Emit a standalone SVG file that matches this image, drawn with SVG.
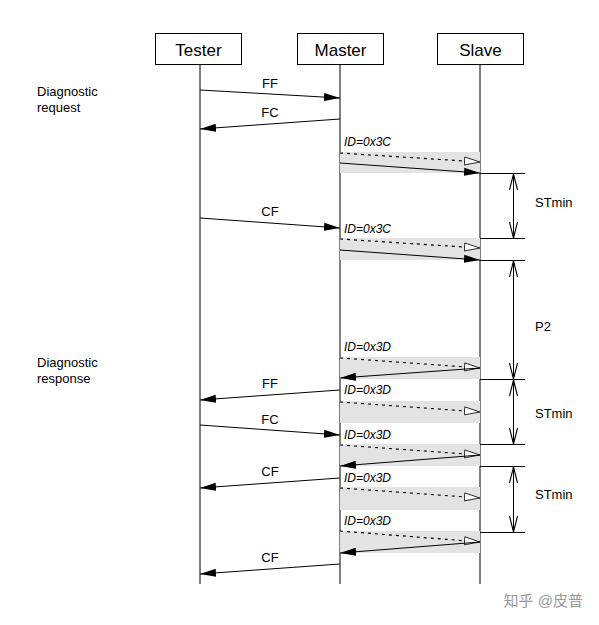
<svg xmlns="http://www.w3.org/2000/svg" width="599" height="625" viewBox="0 0 599 625">
<defs>
<style>
.box{fill:#fff;stroke:#000;stroke-width:1}
.life{stroke:#000;stroke-width:1}
.msg{stroke:#000;stroke-width:1;fill:none}
.dash{stroke:#000;stroke-width:1.2;fill:none;stroke-dasharray:3,4}
.band{fill:#e3e3e3}
.tick{stroke:#000;stroke-width:1}
.t{font-family:"Liberation Sans",Arial,sans-serif;fill:#000}
.lbl{font-size:17px;text-anchor:middle}
.m{font-size:13px;text-anchor:middle}
.id{font-size:12px;font-style:italic}
.side{font-size:13px}
</style>
<marker id="fill" markerUnits="userSpaceOnUse" markerWidth="18" markerHeight="10" refX="16" refY="5" orient="auto">
<path d="M0,1 L16,5 L0,9 z" fill="#000"/>
</marker>
<marker id="hollow" markerUnits="userSpaceOnUse" markerWidth="18" markerHeight="10" refX="16" refY="5" orient="auto">
<path d="M0.5,1 L16,5 L0.5,9 z" fill="#fff" stroke="#000" stroke-width="0.8"/>
</marker>
<marker id="vee" markerUnits="userSpaceOnUse" markerWidth="18" markerHeight="12" refX="16" refY="5" orient="auto-start-reverse">
<path d="M0,1 L16,5 L0,9" fill="none" stroke="#000" stroke-width="1.1"/>
</marker>
</defs>

<g id="tester">
<rect class="box" x="155.5" y="33.5" width="86" height="31"/>
<text class="t lbl" x="198.5" y="56">Tester</text>
<line class="life" x1="200" y1="65" x2="200" y2="584"/>
</g>
<g id="master">
<rect class="box" x="297.5" y="33.5" width="86" height="31"/>
<text class="t lbl" x="340.5" y="56">Master</text>
<line class="life" x1="340" y1="65" x2="340" y2="584"/>
</g>
<g id="slave">
<rect class="box" x="437.5" y="33.5" width="86" height="31"/>
<text class="t lbl" x="480.5" y="56">Slave</text>
<line class="life" x1="480" y1="65" x2="480" y2="584"/>
</g>

<g id="bands">
<rect class="band" x="340" y="152" width="140" height="21"/>
<rect class="band" x="340" y="238" width="140" height="22"/>
<rect class="band" x="340" y="357" width="140" height="22"/>
<rect class="band" x="340" y="401" width="140" height="22"/>
<rect class="band" x="340" y="444" width="140" height="22"/>
<rect class="band" x="340" y="487" width="140" height="23"/>
<rect class="band" x="340" y="531" width="140" height="22"/>
</g>

<g id="connectors">
<line class="msg" x1="200" y1="90" x2="340" y2="98" marker-end="url(#fill)"/>
<line class="msg" x1="340" y1="119" x2="200" y2="129" marker-end="url(#fill)"/>
<line class="dash" x1="340" y1="153" x2="480" y2="162" marker-end="url(#hollow)"/>
<line class="msg" x1="340" y1="163" x2="480" y2="173" marker-end="url(#fill)"/>
<line class="msg" x1="200" y1="218" x2="340" y2="228" marker-end="url(#fill)"/>
<line class="dash" x1="340" y1="239" x2="480" y2="248" marker-end="url(#hollow)"/>
<line class="msg" x1="340" y1="250" x2="480" y2="260" marker-end="url(#fill)"/>
<line class="dash" x1="340" y1="358" x2="480" y2="368" marker-end="url(#hollow)"/>
<line class="msg" x1="480" y1="368" x2="340" y2="378" marker-end="url(#fill)"/>
<line class="msg" x1="340" y1="390" x2="200" y2="400" marker-end="url(#fill)"/>
<line class="dash" x1="340" y1="402" x2="480" y2="412" marker-end="url(#hollow)"/>
<line class="msg" x1="200" y1="425" x2="340" y2="435" marker-end="url(#fill)"/>
<line class="dash" x1="340" y1="445" x2="480" y2="455" marker-end="url(#hollow)"/>
<line class="msg" x1="480" y1="455" x2="340" y2="466" marker-end="url(#fill)"/>
<line class="msg" x1="340" y1="478" x2="200" y2="488" marker-end="url(#fill)"/>
<line class="dash" x1="340" y1="488" x2="480" y2="498" marker-end="url(#hollow)"/>
<line class="dash" x1="340" y1="531" x2="480" y2="542" marker-end="url(#hollow)"/>
<line class="msg" x1="480" y1="542" x2="340" y2="553" marker-end="url(#fill)"/>
<line class="msg" x1="340" y1="564" x2="200" y2="574" marker-end="url(#fill)"/>
</g>

<g id="timing">
<line class="tick" x1="480" y1="173.5" x2="525" y2="173.5"/>
<line class="tick" x1="480" y1="238.5" x2="525" y2="238.5"/>
<line class="tick" x1="480" y1="260.5" x2="525" y2="260.5"/>
<line class="tick" x1="480" y1="379.5" x2="525" y2="379.5"/>
<line class="tick" x1="480" y1="444.5" x2="525" y2="444.5"/>
<line class="tick" x1="480" y1="466.5" x2="525" y2="466.5"/>
<line class="tick" x1="480" y1="532.5" x2="525" y2="532.5"/>
<line class="tick" x1="513.5" y1="174" x2="513.5" y2="238" marker-start="url(#vee)" marker-end="url(#vee)"/>
<line class="tick" x1="513.5" y1="261" x2="513.5" y2="379" marker-start="url(#vee)" marker-end="url(#vee)"/>
<line class="tick" x1="513.5" y1="380" x2="513.5" y2="444" marker-start="url(#vee)" marker-end="url(#vee)"/>
<line class="tick" x1="513.5" y1="467" x2="513.5" y2="532" marker-start="url(#vee)" marker-end="url(#vee)"/>
</g>

<g id="labels">
<text class="t m" x="270" y="88">FF</text>
<text class="t m" x="270" y="117">FC</text>
<text class="t id" x="344" y="146">ID=0x3C</text>
<text class="t m" x="270" y="216">CF</text>
<text class="t id" x="344" y="233">ID=0x3C</text>
<text class="t id" x="344" y="351">ID=0x3D</text>
<text class="t m" x="270" y="388">FF</text>
<text class="t id" x="344" y="394">ID=0x3D</text>
<text class="t m" x="270" y="424">FC</text>
<text class="t id" x="344" y="439">ID=0x3D</text>
<text class="t m" x="270" y="476">CF</text>
<text class="t id" x="344" y="482">ID=0x3D</text>
<text class="t id" x="344" y="525">ID=0x3D</text>
<text class="t m" x="270" y="562">CF</text>
<text class="t side" x="535" y="207">STmin</text>
<text class="t side" x="535" y="331">P2</text>
<text class="t side" x="535" y="418">STmin</text>
<text class="t side" x="535" y="499">STmin</text>
<text class="t side" x="37" y="96">Diagnostic</text>
<text class="t side" x="37" y="112">request</text>
<text class="t side" x="37" y="367">Diagnostic</text>
<text class="t side" x="37" y="383">response</text>
<text x="583" y="606" text-anchor="end" style="font-family:'Liberation Sans','Noto Sans CJK SC',sans-serif;font-size:15px;fill:#9a9a9a">知乎 @皮普</text>
</g>
</svg>
